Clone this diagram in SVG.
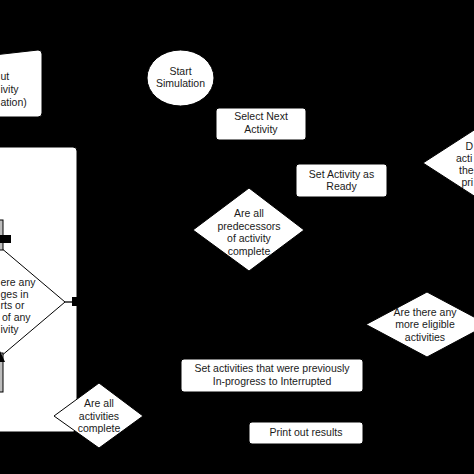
<svg xmlns="http://www.w3.org/2000/svg" width="474" height="474" viewBox="0 0 474 474">
<style>
.s{fill:#fff;stroke:#000;stroke-width:1}
.t{font-family:"Liberation Sans",Arial,sans-serif;font-size:10.5px;fill:#1a1a1a;text-anchor:middle}
.b{text-anchor:start}
.g{fill:#bdbdbd;stroke:#000;stroke-width:1}
.c{stroke:#000;stroke-width:1.3;fill:none}
</style>
<rect x="0" y="0" width="474" height="474" fill="#000"/>
<g id="input">
<path class="s" d="M-6,55 L38,50 Q42,50 42,54 L42,113 Q42,117 38,117 L-6,117 Z"/>
<text class="t b" x="0.5" y="80">ut</text>
<text class="t b" x="0.5" y="93">ivity</text>
<text class="t b" x="0.5" y="106">ation)</text>
</g>
<g id="panel">
<rect class="s" x="-6" y="147" width="83" height="285" rx="4"/>
</g>
<g id="changes">
<polygon class="s" points="0,247 65,302 0,357 -65,302"/>
<text class="t b" x="0.5" y="286">ere any</text>
<text class="t b" x="0.5" y="297.5">ges in</text>
<text class="t b" x="0.5" y="309">rts or</text>
<text class="t b" x="2" y="321">of any</text>
<text class="t b" x="0.5" y="333">ivity</text>
</g>
<g id="grey1"><rect class="g" x="-6" y="220" width="9" height="30"/></g>
<g id="grey2"><rect class="g" x="-6" y="353" width="9" height="39"/></g>
<g id="connectors">
<rect x="-2" y="235" width="13" height="8" fill="#000"/>
<line class="c" x1="65" y1="302" x2="77" y2="302"/>
<rect x="72" y="297" width="6" height="9" fill="#000"/>
<line class="c" x1="0" y1="357" x2="0" y2="362"/>
<polygon points="-3,362 0,351 5,362" fill="#000"/>
</g>
<g id="allcomplete">
<polygon class="s" points="99,383 143,416 99,448 54,416"/>
<text class="t" x="99" y="407">Are all</text>
<text class="t" x="99" y="420">activities</text>
<text class="t" x="99" y="432">complete</text>
</g>
<g id="start">
<ellipse class="s" cx="180.5" cy="78" rx="33.5" ry="28"/>
<text class="t" x="180.5" y="74.5">Start</text>
<text class="t" x="180.5" y="87">Simulation</text>
</g>
<g id="select">
<rect class="s" x="216" y="108" width="90" height="32" rx="3"/>
<text class="t" x="261" y="120">Select Next</text>
<text class="t" x="261" y="132.5">Activity</text>
</g>
<g id="ready">
<rect class="s" x="296" y="164" width="91" height="33" rx="3"/>
<text class="t" x="341.5" y="178">Set Activity as</text>
<text class="t" x="341.5" y="190">Ready</text>
</g>
<g id="predecessors">
<polygon class="s" points="249,188 304,230 249,271 193,230"/>
<text class="t" x="249" y="217">Are all</text>
<text class="t" x="249" y="229.5">predecessors</text>
<text class="t" x="249" y="242">of activity</text>
<text class="t" x="249" y="254.5">complete</text>
</g>
<g id="priority">
<polygon class="s" points="485,123 547,163 485,203 423,163"/>
<text class="t b" x="465.5" y="150">D</text>
<text class="t b" x="456" y="162">acti</text>
<text class="t b" x="459" y="174">the</text>
<text class="t b" x="461.5" y="186">pri</text>
</g>
<g id="eligible">
<polygon class="s" points="427,292 488,324.5 427,357 366,324.5"/>
<text class="t" x="425" y="316">Are there any</text>
<text class="t" x="425" y="328">more eligible</text>
<text class="t" x="425" y="341">activities</text>
</g>
<g id="interrupted">
<rect class="s" x="181" y="359" width="182" height="33" rx="3"/>
<text class="t" x="272" y="372">Set activities that were previously</text>
<text class="t" x="272" y="385">In-progress to Interrupted</text>
</g>
<g id="print">
<rect class="s" x="249" y="422" width="114" height="22" rx="3"/>
<text class="t" x="306" y="436">Print out results</text>
</g>
</svg>
